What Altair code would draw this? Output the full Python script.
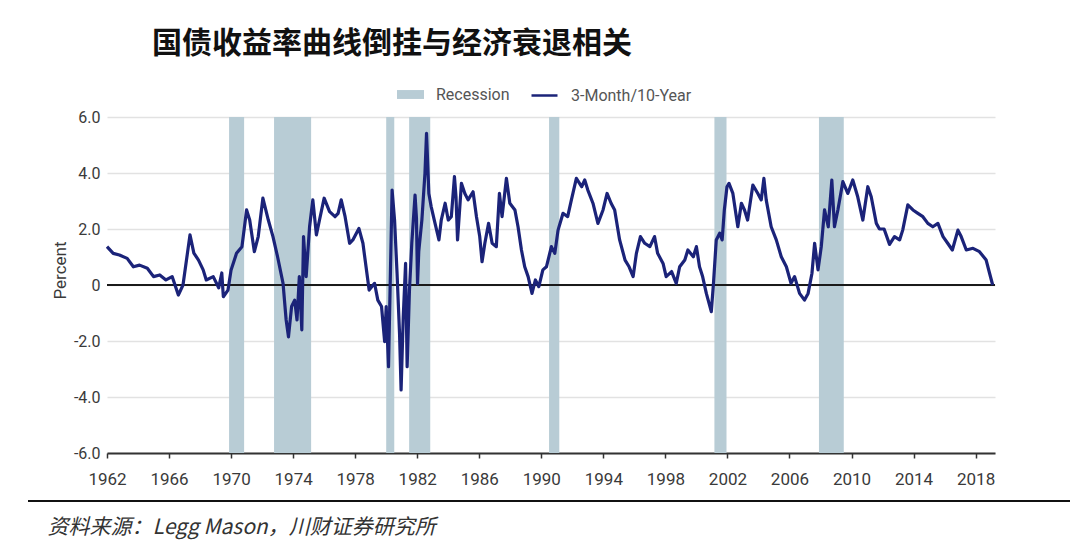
import altair as alt
import pandas as pd

# 3-month / 10-year Treasury spread, percent (decimal year, value)
years = [
    1962.0, 1962.4, 1962.8, 1963.3, 1963.7, 1964.1, 1964.6, 1965.0, 1965.4, 1965.8,
    1966.2, 1966.6, 1966.9, 1967.35, 1967.6, 1967.9, 1968.2, 1968.4, 1968.85, 1969.2,
    1969.4, 1969.5, 1969.8, 1970.0, 1970.35, 1970.7, 1971.0, 1971.2, 1971.5, 1971.75,
    1972.05, 1972.4, 1972.7, 1973.0, 1973.35, 1973.55, 1973.7, 1973.9, 1974.1, 1974.25,
    1974.4, 1974.56, 1974.67, 1974.84, 1975.06, 1975.27, 1975.5, 1975.7, 1976.0, 1976.35,
    1976.7, 1976.9, 1977.1, 1977.35, 1977.64, 1977.85, 1978.24, 1978.5, 1978.7, 1978.9,
    1979.25, 1979.46, 1979.7, 1979.9, 1980.0, 1980.15, 1980.25, 1980.38, 1980.54, 1980.7,
    1980.86, 1980.96, 1981.1, 1981.25, 1981.35, 1981.5, 1981.65, 1981.86, 1981.95, 1982.02,
    1982.1, 1982.3, 1982.5, 1982.6, 1982.75, 1982.9, 1983.1, 1983.4, 1983.55, 1983.8,
    1984.0, 1984.2, 1984.4, 1984.5, 1984.6, 1984.85, 1985.07, 1985.28, 1985.6, 1985.82,
    1986.03, 1986.18, 1986.36, 1986.6, 1986.83, 1987.1, 1987.3, 1987.47, 1987.75, 1987.97,
    1988.3, 1988.5, 1988.72, 1988.93, 1989.15, 1989.4, 1989.62, 1989.84, 1990.1, 1990.33,
    1990.65, 1990.87, 1991.08, 1991.4, 1991.7, 1991.94, 1992.26, 1992.6, 1992.8, 1993.0,
    1993.33, 1993.65, 1993.98, 1994.24, 1994.5, 1994.73, 1995.05, 1995.4, 1995.66, 1995.92,
    1996.13, 1996.39, 1996.67, 1997.0, 1997.3, 1997.5, 1997.85, 1998.05, 1998.4, 1998.7,
    1998.92, 1999.25, 1999.45, 1999.8, 2000.0, 2000.2, 2000.4, 2000.64, 2000.96, 2001.1,
    2001.28, 2001.5, 2001.66, 2001.8, 2001.97, 2002.1, 2002.35, 2002.67, 2002.9, 2003.1,
    2003.3, 2003.64, 2003.96, 2004.18, 2004.35, 2004.5, 2004.82, 2005.15, 2005.47, 2005.8,
    2006.1, 2006.33, 2006.65, 2006.97, 2007.2, 2007.45, 2007.62, 2007.84, 2008.05, 2008.26,
    2008.5, 2008.73, 2008.9, 2009.12, 2009.44, 2009.76, 2010.08, 2010.4, 2010.73, 2011.05,
    2011.27, 2011.6, 2011.8, 2012.1, 2012.45, 2012.77, 2013.1, 2013.3, 2013.63, 2013.96,
    2014.28, 2014.6, 2014.92, 2015.24, 2015.57, 2015.9, 2016.2, 2016.5, 2016.86, 2017.07,
    2017.4, 2017.83, 2018.25, 2018.68, 2018.9, 2019.1,
]
spread = [
    1.37, 1.13, 1.07, 0.95, 0.65, 0.71, 0.60, 0.30, 0.36, 0.18,
    0.30, -0.36, 0.00, 1.79, 1.14, 0.89, 0.54, 0.18, 0.30, -0.10,
    0.43, -0.42, -0.18, 0.54, 1.13, 1.37, 2.68, 2.32, 1.19, 1.73,
    3.10, 2.32, 1.73, 1.00, 0.06, -1.25, -1.85, -0.77, -0.54, -1.25,
    0.30, -1.60, 1.73, 0.30, 2.08, 3.04, 1.79, 2.32, 3.10, 2.62,
    2.44, 2.56, 3.04, 2.44, 1.49, 1.61, 2.02, 1.49, 0.65, -0.18,
    0.06, -0.54, -0.77, -2.02, -0.77, -2.92, -0.18, 3.39, 2.32, 0.42,
    -1.73, -3.75, -1.13, 0.77, -2.92, -0.18, 1.49, 3.21, 2.40, 0.05,
    1.20, 2.32, 4.00, 5.42, 3.27, 2.80, 2.32, 1.61, 2.32, 2.92,
    2.32, 2.44, 3.87, 3.15, 1.61, 3.63, 3.27, 3.04, 3.33, 2.44,
    1.73, 0.83, 1.49, 2.20, 1.49, 1.37, 3.27, 2.44, 3.81, 2.92,
    2.68, 2.08, 1.25, 0.65, 0.30, -0.30, 0.18, -0.06, 0.54, 0.65,
    1.37, 1.13, 1.96, 2.56, 2.44, 3.04, 3.81, 3.51, 3.75, 3.39,
    2.92, 2.20, 2.68, 3.27, 2.92, 2.68, 1.61, 0.89, 0.65, 0.30,
    1.13, 1.73, 1.49, 1.37, 1.73, 1.13, 0.77, 0.30, 0.48, 0.06,
    0.65, 0.89, 1.25, 1.01, 1.37, 0.65, 0.30, -0.30, -0.95, 0.06,
    1.61, 1.85, 1.61, 2.68, 3.51, 3.63, 3.27, 2.08, 2.92, 2.68,
    2.32, 3.57, 3.27, 3.04, 3.81, 3.04, 2.08, 1.61, 1.01, 0.65,
    0.06, 0.30, -0.30, -0.54, -0.30, 0.42, 1.49, 0.54, 1.37, 2.68,
    2.08, 3.75, 2.08, 2.68, 3.69, 3.27, 3.75, 3.15, 2.32, 3.51,
    3.15, 2.20, 2.00, 2.00, 1.45, 1.73, 1.61, 1.96, 2.86, 2.68,
    2.56, 2.44, 2.20, 2.08, 2.20, 1.73, 1.49, 1.25, 1.96, 1.73,
    1.25, 1.31, 1.19, 0.89, 0.42, 0.00,
]

# Recession periods (decimal year)
rec_start = [1969.87, 1972.77, 1980.00, 1981.48, 1990.50, 2001.16, 2007.90]
rec_end = [1970.84, 1975.16, 1980.52, 1982.84, 1991.16, 2001.94, 2009.50]

x_ticks = list(range(1962, 2019, 4))
y_ticks = [-6, -4, -2, 0, 2, 4, 6]

TITLE = "国债收益率曲线倒挂与经济衰退相关"
SOURCE = "资料来源：Legg Mason，川财证券研究所"

NAVY = "#1b2379"
BAND = "#b8ccd5"
LABEL_FONT = "Roboto"
CJK = "Noto Sans CJK SC"

series = pd.DataFrame({"year": years, "spread": spread, "series": "3-Month/10-Year"})
bands = pd.DataFrame({"start": rec_start, "end": rec_end, "lo": -6, "hi": 6,
                      "label": "Recession"})

x_scale = alt.Scale(domain=[1962, 2019.25], nice=False, zero=False)
y_scale = alt.Scale(domain=[-6, 6], nice=False)

x_axis = alt.Axis(
    values=x_ticks, format="d", grid=False, labelFlush=False,
    labelFont=LABEL_FONT, labelFontSize=17, labelColor="#3a3a3a", labelPadding=13,
    domainColor="#333", domainWidth=2, tickColor="#333", tickSize=5, tickWidth=1.5,
    title=SOURCE, titleFont=CJK, titleFontSize=21, titleFontWeight="normal",
    titleFontStyle="italic", titleColor="#333", titleX=-60, titleY=74,
    titleAlign="left", titleBaseline="middle",
)
y_axis = alt.Axis(
    values=y_ticks,
    labelExpr="datum.value == 0 ? '0' : replace(format(datum.value, '.1f'), '\u2212', '-')",
    grid=True, gridColor="#e2e2e2", gridWidth=1.5, domain=False, ticks=False,
    labelFont=LABEL_FONT, labelFontSize=16, labelColor="#3a3a3a", labelPadding=7,
    title="Percent", titleFont=LABEL_FONT, titleFontSize=17, titleFontWeight="normal",
    titleColor="#3a3a3a", titleX=-47, titleY=153, titleAngle=270,
    titleAlign="center", titleBaseline="middle",
)

band_layer = alt.Chart(bands).mark_rect().encode(
    x=alt.X("start:Q", scale=x_scale, axis=x_axis),
    x2="end:Q",
    y=alt.Y("lo:Q", scale=y_scale, axis=y_axis),
    y2="hi:Q",
    fill=alt.Fill(
        "label:N",
        scale=alt.Scale(domain=["Recession"], range=[BAND]),
        legend=alt.Legend(
            orient="none", legendX=290, legendY=-36, title=None, padding=0,
            symbolType="M-1,-0.33H1V0.33H-1Z", symbolSize=729, symbolStrokeWidth=0,
            labelFont=LABEL_FONT, labelFontSize=16, labelColor="#555", labelOffset=12,
        ),
    ),
)

zero_layer = alt.Chart(pd.DataFrame({"zero": [0]})).mark_rule(
    color="#1a1a1a", strokeWidth=2
).encode(y=alt.Y("zero:Q", scale=y_scale))

line_layer = alt.Chart(series).mark_line(strokeWidth=3.2, strokeJoin="round").encode(
    x=alt.X("year:Q", scale=x_scale),
    y=alt.Y("spread:Q", scale=y_scale),
    stroke=alt.Stroke(
        "series:N",
        scale=alt.Scale(domain=["3-Month/10-Year"], range=[NAVY]),
        legend=alt.Legend(
            orient="none", legendX=423, legendY=-36, title=None, padding=0,
            symbolType="stroke", symbolSize=676, symbolStrokeWidth=2.5,
            labelFont=LABEL_FONT, labelFontSize=16, labelColor="#555", labelOffset=12,
        ),
    ),
)

# Separator above the source note
footer_rule = alt.Chart(pd.DataFrame({"k": [0]})).mark_rule(
    color="#111", strokeWidth=2
).encode(x=alt.value(-79), x2=alt.value(963), y=alt.value(384))

chart = (
    alt.layer(band_layer, zero_layer, line_layer, footer_rule)
    .resolve_scale(fill="independent", stroke="independent")
    .properties(
        width=888,
        height=336,
        autosize=alt.AutoSizeParams(type="none"),
        padding={"left": 107, "top": 117, "right": 85, "bottom": 88},
        title=alt.TitleParams(
            TITLE, anchor="start", frame="group", font=CJK, fontSize=30,
            fontWeight="bold", color="#111", dx=45, offset=22,
        ),
        background="white",
    )
    .configure_view(stroke=None)
)

chart.save("out.html", embed_options={"renderer": "svg", "actions": False})
